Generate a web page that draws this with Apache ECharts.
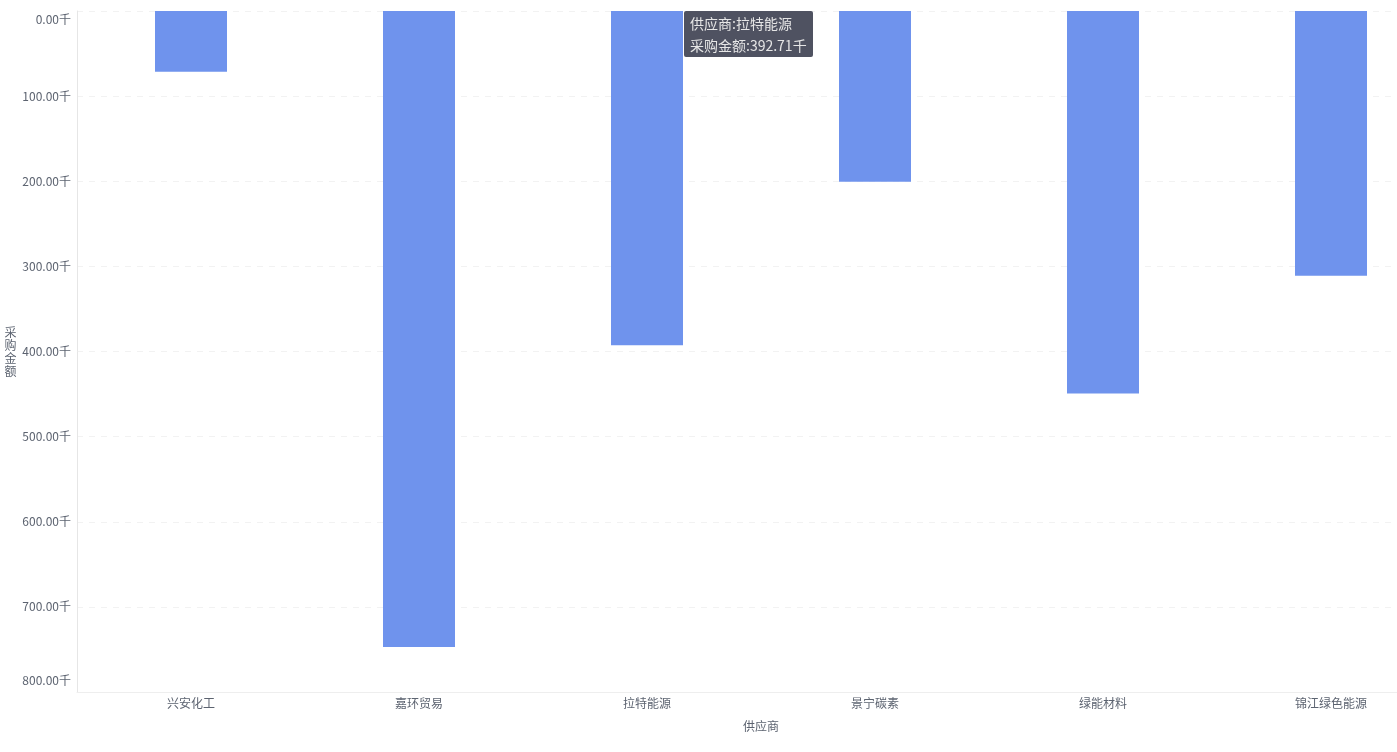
<!DOCTYPE html>
<html>
<head>
<meta charset="utf-8">
<script src="https://cdn.jsdelivr.net/npm/echarts@6/dist/echarts.min.js"></script>
<style>
  html, body { margin: 0; padding: 0; overflow: hidden; background: #fff; }
  #chart { width: 1460px; height: 752px; }
</style>
</head>
<body>
<div id="chart"></div>
<script>
// 供应商
var suppliers = ['兴安化工', '嘉环贸易', '拉特能源', '景宁碳素', '绿能材料', '锦江绿色能源'];
// 采购金额（千）
var amounts = [71.5, 747.0, 392.71, 200.6, 449.3, 310.9];
// 纵轴刻度
var yMin = 0;
var yMax = 800;
var yStep = 100;

var fontFamily = '"Noto Sans CJK SC", "Noto Sans", sans-serif';
var chart = echarts.init(document.getElementById('chart'));

var option = {
  textStyle: { fontFamily: fontFamily },
  grid: {
    left: 77,
    right: 15,
    top: 11,
    bottom: 60,
    containLabel: false,
    outerBoundsMode: 'none'
  },
  tooltip: {
    trigger: 'item',
    alwaysShowContent: true,
    backgroundColor: 'rgba(70,73,88,0.95)',
    borderColor: 'rgba(70,73,88,0.95)',
    borderWidth: 0,
    borderRadius: 2,
    padding: [1, 6],
    extraCssText: 'box-shadow:none;line-height:22px;',
    textStyle: { color: '#e6e6e6', fontSize: 14, fontFamily: fontFamily },
    position: function () {
      return [684, 11];
    },
    formatter: function (p) {
      return '供应商:' + p.name + '<br/>采购金额:' + p.value.toFixed(2) + '千';
    }
  },
  xAxis: {
    type: 'category',
    data: suppliers,
    name: '供应商',
    nameLocation: 'middle',
    nameGap: 28,
    nameTextStyle: { color: '#5c6370', fontSize: 12 },
    axisLine: { onZero: false, lineStyle: { color: '#eeeeee' } },
    axisTick: { show: false },
    axisLabel: { color: '#5c6370', fontSize: 12, margin: 5 }
  },
  yAxis: {
    type: 'value',
    inverse: true,
    min: yMin,
    max: yMax,
    interval: yStep,
    name: '采\n购\n金\n额',
    nameLocation: 'middle',
    nameGap: 60,
    nameRotate: 0,
    nameTextStyle: { color: '#5c6370', fontSize: 12, lineHeight: 13, padding: [4, 0, 0, 0] },
    axisLine: { show: true, lineStyle: { color: '#e6e6e6' } },
    axisTick: { show: false },
    splitLine: { lineStyle: { color: '#f2f2f2', type: [6, 6] } },
    axisLabel: {
      color: '#5c6370',
      fontSize: 12,
      margin: 6,
      formatter: function (v) {
        var s = v.toFixed(2) + '千';
        if (v === yMin) return '{first|' + s + '}';
        if (v === yMax) return '{last|' + s + '}';
        return s;
      },
      rich: {
        first: { color: '#5c6370', fontSize: 12, padding: [16, 0, 0, 0] },
        last: { color: '#5c6370', fontSize: 12, padding: [0, 0, 24, 0] }
      }
    }
  },
  series: [{
    name: '采购金额',
    type: 'bar',
    data: amounts,
    barWidth: 72,
    itemStyle: { color: '#6f93ed' }
  }]
};

chart.setOption(option);
setTimeout(function () {
  chart.dispatchAction({ type: 'showTip', seriesIndex: 0, dataIndex: 2 });
}, 50);
</script>
</body>
</html>
